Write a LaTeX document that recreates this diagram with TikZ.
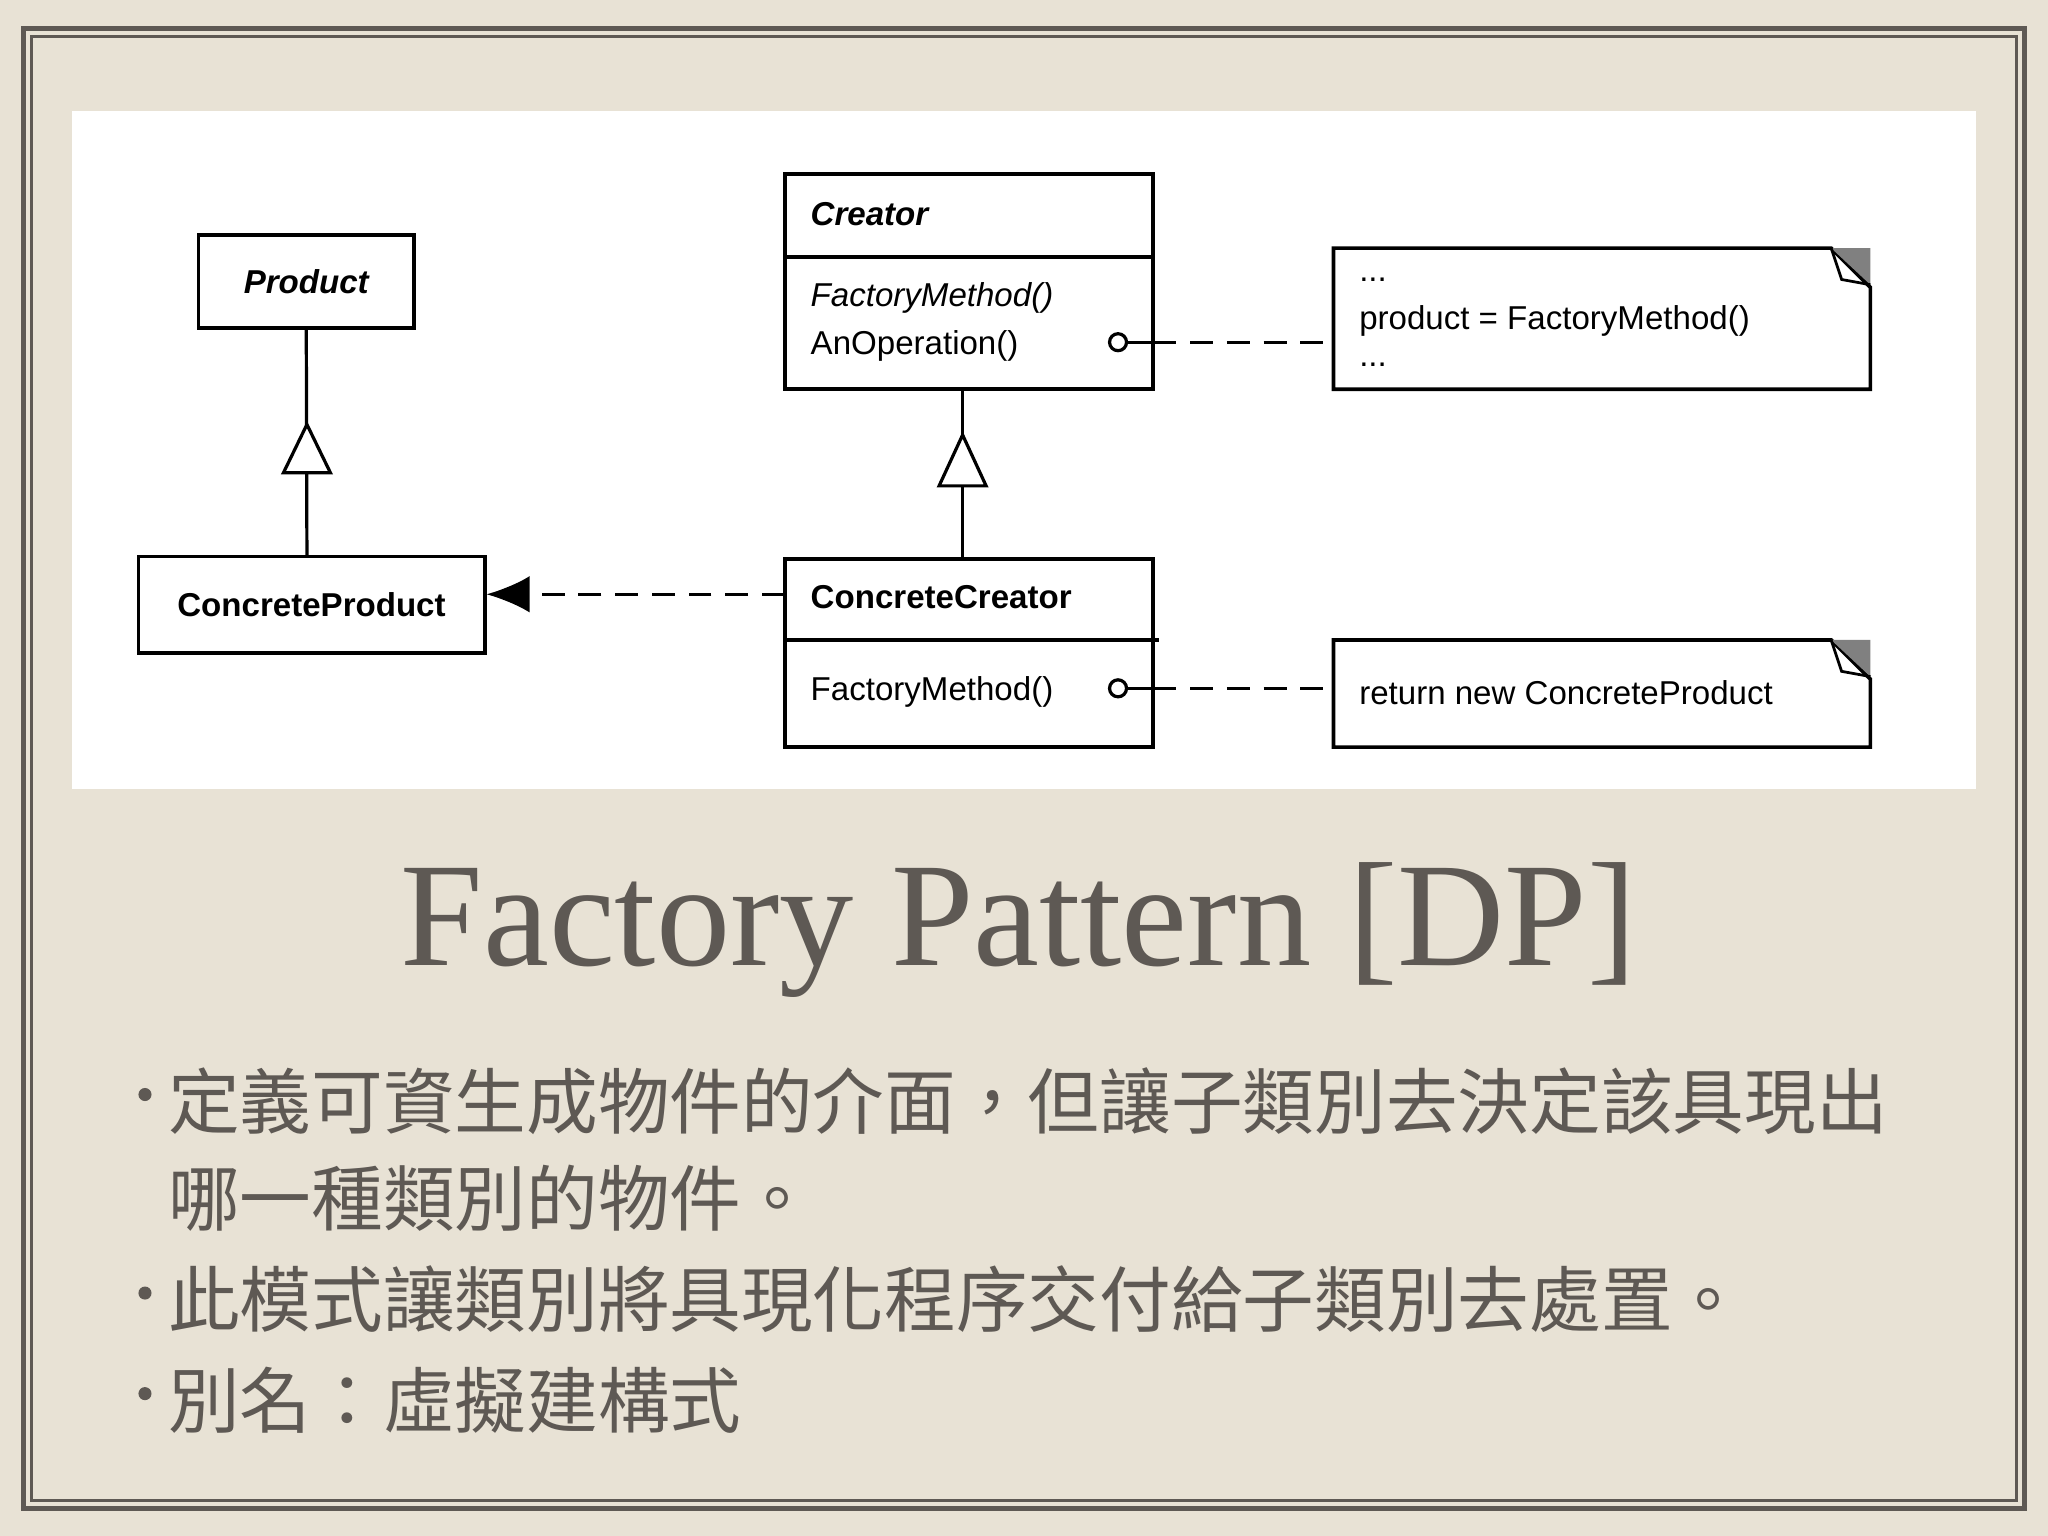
\documentclass[tikz,border=0pt]{standalone}
\usepackage{fontspec}
\setmainfont{Liberation Serif}
\newfontfamily\uml{Liberation Sans}
\newfontfamily\cjk{Noto Sans CJK TC}
\usetikzlibrary{arrows.meta}
\definecolor{bg}{HTML}{E8E2D5}
\definecolor{ttl}{HTML}{5E5954}
\begin{document}
\begin{tikzpicture}[x=0.01cm,y=-0.01cm,
  box/.style={draw,line width=0.8pt},
  lbl/.style={anchor=west,font=\uml\fontsize{7.2pt}{9pt}\selectfont,inner sep=0},
  tri/.style={draw,fill=white,line width=0.7pt},
  dep/.style={dashed,dash pattern=on 5pt off 3pt,line width=0.7pt},
  bul/.style={anchor=west,font=\cjk\fontsize{15.6pt}{18pt}\selectfont,text=ttl,inner sep=0},
  dot/.style={circle,fill=ttl,inner sep=0,minimum size=0.1cm}]
\fill[bg] (0,0) rectangle (1568,1176);
\draw[ttl,line width=1.2pt] (18,22) rectangle (1550,1155);
\draw[ttl,line width=0.6pt] (24,28) rectangle (1544,1149);
\fill[white] (55,85) rectangle (1513,604);
% classes
\node[box,minimum width=1.65cm,minimum height=0.71cm,font=\uml\bfseries\itshape\fontsize{7.2pt}{9pt}\selectfont] (prod) at (234.5,215.5) {Product};
\node[box,minimum width=2.65cm,minimum height=0.74cm,font=\uml\bfseries\fontsize{7.2pt}{9pt}\selectfont] (cprod) at (238.5,463) {ConcreteProduct};
\draw[box] (601,133) rectangle (883,298); \draw[line width=0.8pt] (601,197)--(883,197);
\coordinate (crt) at (737,298);
\node[lbl,font=\uml\bfseries\itshape\fontsize{7.2pt}{9pt}\selectfont] (crn) at (620,164) {Creator};
\node[lbl,font=\uml\itshape\fontsize{7.2pt}{9pt}\selectfont] (fm1) at (620,228) {FactoryMethod()};
\node[lbl] (ao) at (620,265) {AnOperation()};
\draw[box] (601,428) rectangle (883,572); \draw[line width=0.8pt] (601,490)--(887,490);
\node[lbl,font=\uml\bfseries\fontsize{7.2pt}{9pt}\selectfont] (ccn) at (620,457) {ConcreteCreator};
\node[lbl] (fm2) at (620,530) {FactoryMethod()};
\coordinate (cct) at (737,428); \coordinate (ccl) at (601,455);
\draw[line width=0.7pt] (235,426) -- (prod.south);
\draw[tri] (235,325) -- (253,362) -- (217,362) -- cycle;
\draw[line width=0.7pt] (cct) -- (crt);
\draw[tri] (737,333) -- (755,372) -- (719,372) -- cycle;
\draw[dep,-{Latex[length=0.33cm,width=0.28cm]}] (ccl) -- (cprod.east |- ccl);
% notes
\draw[line width=0.8pt] (1021,190) -- (1402,190) -- (1432,220) -- (1432,298) -- (1021,298) -- cycle;
\draw[line width=0.8pt] (1021,490) -- (1402,490) -- (1432,520) -- (1432,572) -- (1021,572) -- cycle;
\fill[gray] (1402,190)--(1432,190)--(1432,218)--cycle;
\draw[line width=0.6pt] (1402,190)--(1410,214)--(1432,218);
\fill[gray] (1402,490)--(1432,490)--(1432,518)--cycle;
\draw[line width=0.6pt] (1402,490)--(1410,514)--(1432,518);
\coordinate (n1) at (1021,262); \coordinate (n2) at (1021,527);
\node[lbl] (t1) at (1040,214) {...};
\node[lbl] (t2) at (1040,246) {product = FactoryMethod()};
\node[lbl] (t3) at (1040,279) {...};
\node[lbl] (t4) at (1040,530) {return new ConcreteProduct};
\node[circle,draw,inner sep=0,minimum size=0.13cm,line width=0.7pt] (c1) at (856,262) {};
\node[circle,draw,inner sep=0,minimum size=0.13cm,line width=0.7pt] (c2) at (856,527) {};
\coordinate (e1) at (883,262); \coordinate (e2) at (883,527);
\draw[line width=0.7pt] (c1) -- (e1); \draw[dep] (e1) -- (n1);
\draw[line width=0.7pt] (c2) -- (e2); \draw[dep] (e2) -- (n2);
% title
\node[font=\fontsize{32.3pt}{38pt}\selectfont,text=ttl] (title) at (780,712) {Factory Pattern [DP]};
\node[dot] (d1) at (111,838) {};
\node[bul] (b1) at (128,843) {定義可資生成物件的介面，但讓子類別去決定該具現出};
\node[bul] (b1b) at (128,917) {哪一種類別的物件。};
\node[dot] (d2) at (111,990) {};
\node[bul] (b2) at (128,995) {此模式讓類別將具現化程序交付給子類別去處置。};
\node[dot] (d3) at (111,1067) {};
\node[bul] (b3) at (128,1072) {別名：虛擬建構式};
\end{tikzpicture}
\end{document}
